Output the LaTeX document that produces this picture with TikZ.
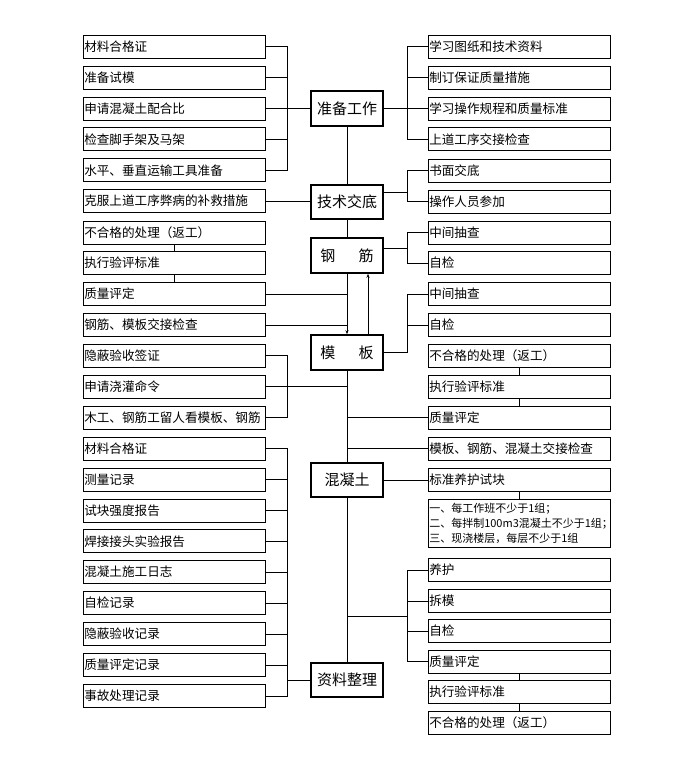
\documentclass[tikz,border=0pt]{standalone}
\usepackage{fontspec}
\setmainfont{Noto Sans CJK SC}
\usetikzlibrary{arrows.meta}
\tikzset{
  itembox/.style={draw, anchor=west, minimum width=181.7pt, minimum height=23pt,
    text width=180.7pt, inner xsep=0.5pt, inner ysep=0pt, align=left,
    font=\fontsize{12.6}{14}\selectfont},
  notebox/.style={itembox, minimum height=48pt, font=\fontsize{11}{15}\selectfont},
  hubbox/.style={draw, line width=2pt, minimum width=72.6pt, minimum height=34.5pt,
    inner sep=0pt, font=\fontsize{15}{17}\selectfont},
  tip/.style={-{Stealth[length=4pt,width=3pt]}}
}
\begin{document}
\begin{tikzpicture}[x=1pt,y=-1pt,line width=0.9pt]
\useasboundingbox (0,0) rectangle (700,775);

% Draw the main column (work steps)
\node[hubbox] (prep)  at (347,108.5) {准备工作};
\node[hubbox] (tech)  at (347,202)   {技术交底};
\node[hubbox] (steel) at (347,255.5) {钢\hspace{1.55em}筋};
\node[hubbox] (form)  at (347,352.5) {模\hspace{1.55em}板};
\node[hubbox] (conc)  at (347,480)   {混凝土};
\node[hubbox] (data)  at (347,680)   {资料整理};

% Draw the left column
\node[itembox] (l0)  at (83.3,46.7)  {材料合格证};
\node[itembox] (l1)  at (83.3,77.6)  {准备试模};
\node[itembox] (l2)  at (83.3,108.5) {申请混凝土配合比};
\node[itembox] (l3)  at (83.3,139.4) {检查脚手架及马架};
\node[itembox] (l4)  at (83.3,170.3) {水平、垂直运输工具准备};
\node[itembox] (l5)  at (83.3,201.2) {克服上道工序弊病的补救措施};
\node[itembox] (l6)  at (83.3,232.5) {不合格的处理（返工）};
\node[itembox] (l7)  at (83.3,263)   {执行验评标准};
\node[itembox] (l8)  at (83.3,294)   {质量评定};
\node[itembox] (l9)  at (83.3,325)   {钢筋、模板交接检查};
\node[itembox] (l10) at (83.3,355.7) {隐蔽验收签证};
\node[itembox] (l11) at (83.3,386.6) {申请浇灌命令};
\node[itembox] (l12) at (83.3,417.5) {木工、钢筋工留人看模板、钢筋};
\node[itembox] (l13) at (83.3,448.8) {材料合格证};
\node[itembox] (l14) at (83.3,479.7) {测量记录};
\node[itembox] (l15) at (83.3,510.6) {试块强度报告};
\node[itembox] (l16) at (83.3,541.3) {焊接接头实验报告};
\node[itembox] (l17) at (83.3,572)   {混凝土施工日志};
\node[itembox] (l18) at (83.3,603)   {自检记录};
\node[itembox] (l19) at (83.3,634)   {隐蔽验收记录};
\node[itembox] (l20) at (83.3,665)   {质量评定记录};
\node[itembox] (l21) at (83.3,696)   {事故处理记录};

% Draw the right column
\node[itembox] (r0)  at (428.3,46.7)  {学习图纸和技术资料};
\node[itembox] (r1)  at (428.3,77.6)  {制订保证质量措施};
\node[itembox] (r2)  at (428.3,108.5) {学习操作规程和质量标准};
\node[itembox] (r3)  at (428.3,139.4) {上道工序交接检查};
\node[itembox] (r4)  at (428.3,170.5) {书面交底};
\node[itembox] (r5)  at (428.3,201.5) {操作人员参加};
\node[itembox] (r6)  at (428.3,232.5) {中间抽查};
\node[itembox] (r7)  at (428.3,263)   {自检};
\node[itembox] (r8)  at (428.3,294)   {中间抽查};
\node[itembox] (r9)  at (428.3,325)   {自检};
\node[itembox] (r10) at (428.3,355.7) {不合格的处理（返工）};
\node[itembox] (r11) at (428.3,386.6) {执行验评标准};
\node[itembox] (r12) at (428.3,417.5) {质量评定};
\node[itembox] (r13) at (428.3,448.6) {模板、钢筋、混凝土交接检查};
\node[itembox] (r14) at (428.3,479.5) {标准养护试块};
\node[notebox] (note) at (428.3,523.3) {一、每工作班不少于1组；\\二、每拌制100m3混凝土不少于1组；\\三、现浇楼层，每层不少于1组};
\node[itembox] (r15) at (428.3,570)   {养护};
\node[itembox] (r16) at (428.3,601)   {拆模};
\node[itembox] (r17) at (428.3,631)   {自检};
\node[itembox] (r18) at (428.3,661.7) {质量评定};
\node[itembox] (r19) at (428.3,692)   {执行验评标准};
\node[itembox] (r20) at (428.3,723)   {不合格的处理（返工）};

\coordinate (bl) at (287.3,0);
\coordinate (br) at (407.3,0);
\coordinate (techR) at ([yshift=9.3pt]tech.east);
\coordinate (steelR) at ([yshift=7pt]steel.east);
\coordinate (jn) at (347,616);

% Draw the main spine
\draw (prep) -- (tech);
\draw (tech) -- (steel);
\draw[tip] (steel.south) -- (form.north);
\draw[tip] ([xshift=21pt]form.north) -- ([xshift=21pt]steel.south);
\draw (form) -- (conc);
\draw (conc) -- (data);

% Left brackets
\draw (l0.east) -| (bl |- l4.east) -- (l4.east);
\draw (l1.east) -- (l1.east -| bl);
\draw (l3.east) -- (l3.east -| bl);
\draw (l2.east) -- (prep.west);
\draw (l5.east) -- (l5.east -| tech.west);
\draw (l6.south) -- (l7.north);
\draw (l7.south) -- (l8.north);
\draw (l8.east) -- (l8.east -| steel.south);
\draw (l9.east) -- (l9.east -| steel.south);
\draw (l10.east) -| (bl |- l12.east) -- (l12.east);
\draw (l11.east) -- (l11.east -| form.south);
\draw (l13.east) -| (bl |- l21.east) -- (l21.east);
\draw (l14.east) -- (l14.east -| bl);
\draw (l15.east) -- (l15.east -| bl);
\draw (l16.east) -- (l16.east -| bl);
\draw (l17.east) -- (l17.east -| bl);
\draw (l18.east) -- (l18.east -| bl);
\draw (l19.east) -- (l19.east -| bl);
\draw (l20.east) -- (l20.east -| bl);
\draw (bl |- data.west) -- (data.west);

% Right brackets
\draw (r0.west) -| (br |- r3.west) -- (r3.west);
\draw (r1.west) -- (r1.west -| br);
\draw (r2.west) -- (prep.east);
\draw (r4.west) -| (br |- r5.west) -- (r5.west);
\draw (techR) -- (techR -| br);
\draw (r6.west) -| (br |- r7.west) -- (r7.west);
\draw (steelR) -- (steelR -| br);
\draw (r8.west) -| (br |- form.east) -- (form.east);
\draw (r9.west) -- (r9.west -| br);
\draw (r10.south) -- (r11.north);
\draw (r11.south) -- (r12.north);
\draw (r12.west) -- (r12.west -| form.south);
\draw (r13.west) -- (r13.west -| form.south);
\draw (conc.east) -- (conc.east -| r14.west);
\draw (r14.south) -- (note.north);
\draw (r15.west) -| (br |- r18.west) -- (r18.west);
\draw (r16.west) -- (r16.west -| br);
\draw (r17.west) -- (r17.west -| br);
\draw (jn) -- (jn -| br);
\draw (r18.south) -- (r19.north);
\draw (r19.south) -- (r20.north);

\end{tikzpicture}
\end{document}
